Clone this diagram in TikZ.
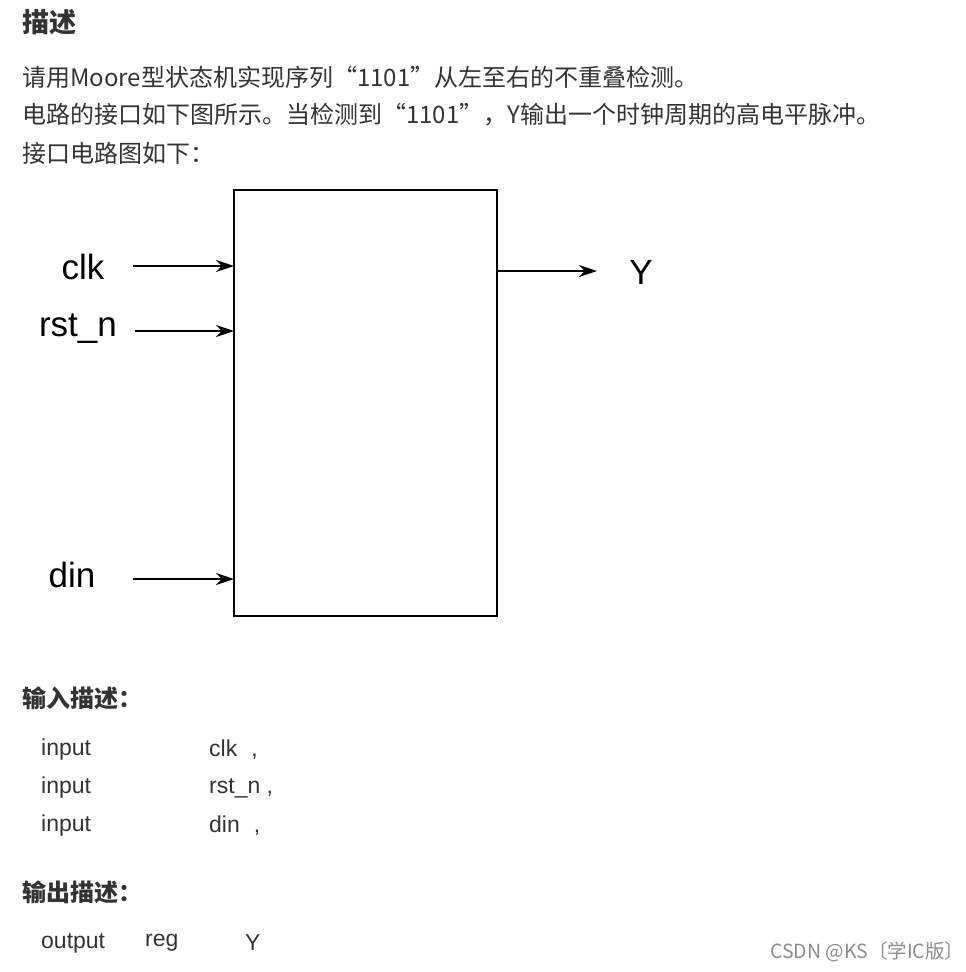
\documentclass[tikz,border=0pt]{standalone}
\usepackage{fontspec}
\setmainfont{Liberation Sans}
\newfontfamily\cjk{Noto Sans CJK SC}
\usetikzlibrary{arrows.meta}
\definecolor{txt}{HTML}{333333}
\begin{document}
\begin{tikzpicture}[x=1pt,y=-1pt,
 tx/.style={anchor=west,inner sep=0pt,text=txt,font=\cjk\fontsize{24}{28}\selectfont},
 hd/.style={anchor=west,inner sep=0pt,text=txt,font=\cjk\bfseries\fontsize{27}{30}\selectfont},
 sm/.style={anchor=west,inner sep=0pt,text=txt,font=\fontsize{23}{26}\selectfont},
 lab/.style={inner sep=0pt,font=\fontsize{35}{40}\selectfont},
 ar/.style={-{Stealth[length=18pt,width=12pt]},line width=1.6pt}]
\useasboundingbox (0,0) rectangle (966,972);
\node[hd] (t0) at (22,22) {描述};
\node[tx] (t1) at (22,77) {请用Moore型状态机实现序列“1101”从左至右的不重叠检测。};
\node[tx] (t2) at (22,115) {电路的接口如下图所示。当检测到“1101”，Y输出一个时钟周期的高电平脉冲。};
\node[tx] (t3) at (22,153) {接口电路图如下：};
\draw[line width=1.6pt] (234,190) rectangle (497,616);
\coordinate (bclk) at (234,266);
\coordinate (brst) at (234,331);
\coordinate (bdin) at (234,579);
\coordinate (bout) at (497,271);
\node[lab] (clk) at (83,267) {clk};
\node[lab] (rst) at (78,329) {rst\_n};
\node[lab] (din) at (72,575) {din};
\node[lab] (Y) at (641,272) {Y};
\coordinate (c1) at (133,266);
\coordinate (c2) at (135,331);
\coordinate (c3) at (133,579);
\coordinate (c4) at (597,271);
\draw[ar] (c1) -- (bclk);
\draw[ar] (c2) -- (brst);
\draw[ar] (c3) -- (bdin);
\draw[ar] (bout) -- (c4);
\node[hd,font=\cjk\bfseries\fontsize{24}{26}\selectfont] (h1) at (22,698) {输入描述：};
\node[sm] (i1) at (41,750) {input};
\node[sm] (i2) at (41,788) {input};
\node[sm] (i3) at (41,826) {input};
\node[sm] (n1) at (209,750) {clk\hspace{14pt},};
\node[sm] (n2) at (209,788) {rst\_n ,};
\node[sm] (n3) at (209,826) {din\hspace{14pt},};
\node[hd,font=\cjk\bfseries\fontsize{24}{26}\selectfont] (h2) at (22,892) {输出描述：};
\node[sm] (o1) at (41,943) {output};
\node[sm] (o2) at (145,943) {reg};
\node[sm] (o3) at (245,943) {Y};
\node[anchor=west,inner sep=0pt,text=black!45,font=\cjk\fontsize{19.5}{22}\selectfont] (wm) at (770,952) {CSDN @KS〔学IC版〕};
\end{tikzpicture}
\end{document}
